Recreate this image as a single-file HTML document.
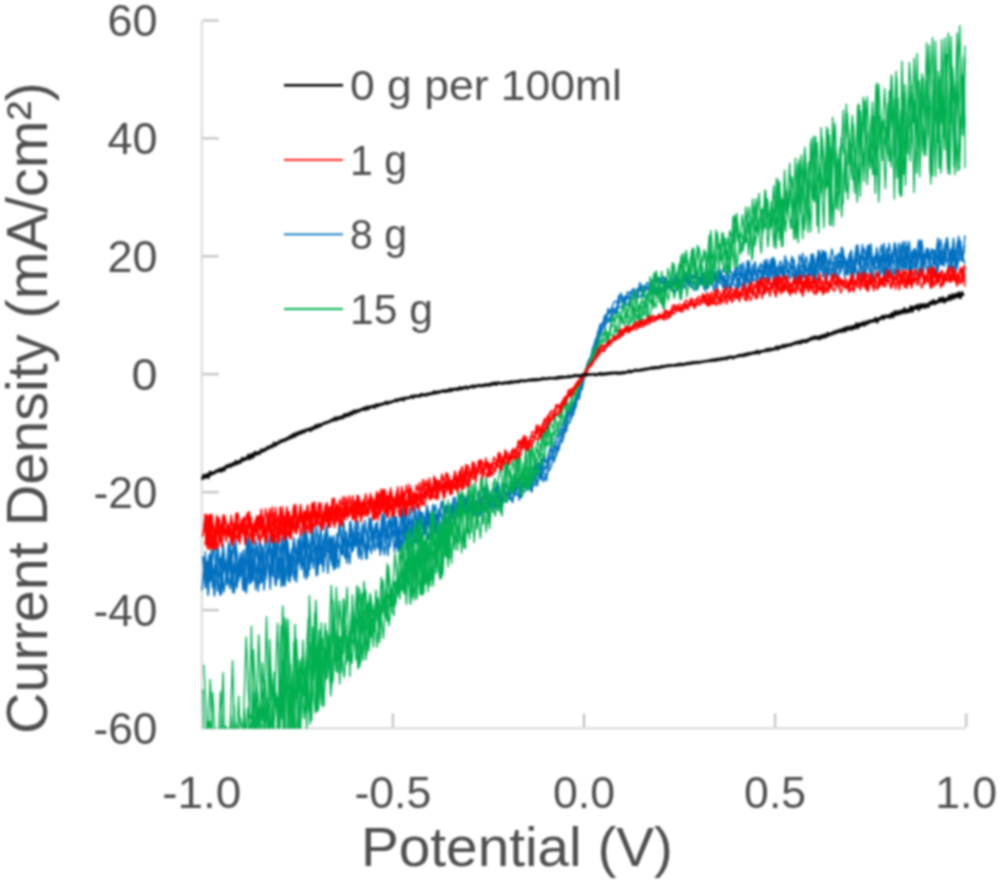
<!DOCTYPE html><html><head><meta charset="utf-8"><style>html,body{margin:0;padding:0;background:#fff;width:1000px;height:883px;overflow:hidden}svg{display:block;filter:blur(0.8px)}text{font-family:"Liberation Sans",sans-serif;fill:#4f4f4f}</style></head><body>
<svg width="1000" height="883" viewBox="0 0 1000 883">
<defs><clipPath id="pc"><rect x="201" y="19" width="766" height="709.5"/></clipPath></defs>
<g stroke="#D9D9D9" stroke-width="2" fill="none">
<path d="M201.8,20.5 V728.3 H966.2"/>
<path stroke="#BBBBBB" d="M202.8,20.5 h16"/>
<path stroke="#BBBBBB" d="M202.8,138.4 h16"/>
<path stroke="#BBBBBB" d="M202.8,256.3 h16"/>
<path stroke="#BBBBBB" d="M202.8,374.2 h16"/>
<path stroke="#BBBBBB" d="M202.8,492.2 h16"/>
<path stroke="#BBBBBB" d="M202.8,610.1 h16"/>
<path stroke="#BBBBBB" d="M392.9,727.0 v-13.5"/>
<path stroke="#BBBBBB" d="M584.0,727.0 v-13.5"/>
<path stroke="#BBBBBB" d="M775.1,727.0 v-13.5"/>
<path stroke="#BBBBBB" d="M966.2,727.0 v-13.5"/>
</g>
<g clip-path="url(#pc)" fill="none" stroke-linejoin="round">
<polyline stroke="#0070C0" stroke-width="1.5" points="203.8,556.5 206.6,585.7 209.9,557.7 212.5,579.9 216.3,558.5 220.0,595.3 223.1,543.4 226.2,580.2 228.6,556.3 232.8,592.8 235.9,540.1 238.3,581.6 242.0,563.3 244.5,591.3 247.8,537.5 251.3,582.6 254.3,549.7 258.2,591.3 261.5,545.0 264.1,590.0 267.3,552.4 270.2,589.3 273.4,536.1 277.3,568.2 280.4,550.4 282.9,585.8 286.7,533.5 289.8,582.1 293.5,540.5 296.5,582.1 299.6,541.2 302.7,565.4 306.4,542.1 309.7,569.5 312.1,533.0 315.2,558.4 319.0,541.6 321.4,564.0 324.9,533.2 327.8,573.3 331.3,537.7 334.2,569.1 337.6,541.1 341.4,554.1 344.8,532.1 347.8,556.6 350.8,521.7 354.0,545.3 356.9,529.3 359.9,550.4 363.4,533.9 367.0,559.0 369.4,517.1 372.5,547.9 376.6,527.8 379.2,542.1 382.9,521.8 386.2,538.5 389.6,521.7 392.2,536.3 395.3,527.6 399.1,541.8 402.2,508.8 405.3,538.2 408.7,520.0 411.7,538.2 415.2,506.4 417.7,531.8 421.4,512.6 424.8,534.1 427.3,505.9 430.8,536.9 433.7,510.2 437.0,536.2 439.8,508.6 442.9,524.1 447.0,508.1 449.8,520.5 453.2,505.0 456.6,510.9 459.4,503.7 462.5,513.8 465.5,500.5 469.4,510.9 472.7,499.3 475.8,509.8 479.1,490.4 482.1,506.1 485.3,495.9 487.9,506.3 491.8,495.7 494.5,501.0 497.8,494.1 500.9,507.4 504.4,493.0 507.7,497.2 510.8,487.8 513.7,493.6 516.7,485.4 520.7,490.0 523.2,482.9 526.6,487.9 529.4,479.2 532.8,483.0 535.8,464.3 539.3,477.9 542.9,468.6 546.5,480.8 549.2,460.6 552.0,458.6 555.7,445.9 558.8,450.4 562.3,431.5 565.1,428.3 568.8,407.4 571.4,418.8 574.4,403.9 577.9,397.1 581.6,385.8 584.6,374.4 587.5,362.7 590.7,361.4 594.1,348.7 597.0,341.9 600.3,328.9 604.0,325.2 607.2,317.3 610.3,321.9 612.6,309.1 616.4,313.3 619.3,302.2 623.2,301.0 625.7,297.5 629.6,297.6 632.0,293.8 635.4,294.0 639.2,289.7 642.0,291.0 645.6,286.9 648.3,289.1 651.2,285.4 654.9,295.0 657.9,284.8 661.1,294.6 663.8,284.0 667.1,286.5 671.2,280.9 674.4,293.3 677.6,280.2 680.1,285.7 682.9,278.7 686.7,283.6 690.2,278.1 693.3,284.2 695.7,277.1 699.2,283.4 702.9,275.9 705.3,289.4 709.5,276.6 712.9,283.7 715.2,275.8 718.1,282.4 722.5,275.7 725.4,291.4 728.2,273.2 731.5,280.9 735.2,271.2 737.7,289.1 740.5,270.1 744.4,286.7 747.3,260.7 750.9,278.9 754.4,267.9 756.9,278.2 760.0,270.1 762.9,279.7 767.1,259.3 769.4,284.4 773.6,257.5 776.5,286.0 780.0,266.3 783.1,276.4 785.5,264.6 788.7,272.6 792.8,266.4 795.2,282.5 799.0,263.4 801.5,283.3 804.8,262.3 808.5,275.4 811.2,254.3 815.0,281.8 818.3,251.1 820.9,268.1 824.0,251.4 826.9,280.7 830.6,257.3 833.4,280.5 837.2,257.0 840.5,272.9 843.6,256.2 846.8,273.6 850.0,256.0 853.6,279.4 856.3,245.5 859.9,263.2 862.5,244.6 865.5,278.2 868.7,245.6 872.6,265.4 875.2,254.9 879.0,269.5 882.4,252.9 885.1,267.3 887.9,250.7 891.6,262.5 894.5,242.7 898.4,268.5 900.8,252.1 904.0,268.2 907.5,247.9 910.7,276.0 913.5,249.0 916.9,267.3 920.5,240.6 923.4,268.1 926.2,251.1 929.8,258.6 933.0,250.5 936.2,263.3 938.9,250.3 942.4,263.7 946.4,239.2 949.5,260.4 952.8,247.7 955.8,265.6 958.6,236.2 962.4,261.3 964.8,245.1"/>
<polyline stroke="#0070C0" stroke-width="1.5" points="204.8,577.0 207.9,561.2 210.6,580.3 213.8,544.2 217.7,591.2 220.2,557.8 224.1,591.7 227.0,565.2 229.8,588.7 233.5,540.4 237.0,588.0 240.4,552.8 242.8,589.8 246.1,550.0 249.4,584.3 252.6,539.4 255.5,589.6 258.9,551.0 261.8,582.5 265.5,536.2 269.3,574.9 271.4,550.1 275.3,584.2 278.3,536.3 281.3,586.5 284.5,534.0 288.4,580.6 290.6,554.8 294.4,580.2 297.5,550.0 301.2,567.1 303.5,528.7 306.5,579.1 310.7,542.5 313.3,568.3 316.6,524.5 319.4,564.7 322.7,541.8 325.9,556.1 329.7,541.2 332.2,565.6 335.5,544.1 338.9,567.7 342.1,535.6 344.9,558.1 349.3,539.7 352.3,551.6 355.4,521.7 358.5,556.0 361.3,534.5 364.9,550.1 368.3,538.0 371.3,553.5 374.7,527.5 377.8,548.6 380.9,529.9 384.4,554.9 387.4,530.4 390.1,546.8 393.5,509.3 396.2,547.2 399.8,526.7 403.2,547.7 405.9,509.3 409.6,547.9 412.5,528.4 415.5,542.8 418.9,506.2 422.4,542.4 425.4,517.8 428.6,539.1 432.2,518.2 435.2,532.5 438.4,514.7 441.0,529.2 444.1,512.6 447.7,523.9 450.6,510.4 454.4,521.4 457.9,505.6 460.9,515.0 463.8,494.8 467.5,513.8 470.5,504.4 473.5,512.3 476.8,501.4 479.5,516.4 482.5,503.0 486.8,511.8 490.0,500.3 492.7,509.4 496.0,485.9 499.4,505.9 501.8,496.3 505.7,501.9 509.0,496.4 511.5,500.9 515.1,493.3 518.6,495.9 522.0,490.4 524.6,492.1 527.4,487.0 531.3,490.6 534.4,466.3 537.5,485.9 540.5,461.8 543.3,481.8 547.6,471.5 550.1,469.5 552.9,460.2 556.2,456.1 560.0,441.9 562.5,441.9 566.6,425.3 569.8,422.5 572.1,413.6 576.0,407.2 578.8,388.0 582.0,389.8 585.9,371.1 588.1,368.9 591.8,359.2 595.6,349.8 597.8,331.5 601.6,333.0 604.4,315.8 607.5,322.6 610.9,315.2 614.5,314.1 617.4,307.9 620.9,307.3 624.4,301.8 627.6,305.4 630.3,298.1 633.2,299.4 636.8,294.5 639.4,297.2 642.9,293.2 646.0,296.9 650.0,289.8 652.7,291.2 655.7,288.6 658.8,291.9 662.3,287.7 665.5,292.9 669.1,285.8 671.9,290.2 675.6,273.5 677.7,289.8 681.6,283.3 684.6,288.1 687.6,271.7 691.0,287.7 694.9,282.0 697.3,290.0 701.2,280.1 703.9,287.3 706.9,281.2 709.7,285.1 713.0,266.8 717.1,290.1 719.4,267.9 722.8,288.2 726.1,279.6 728.9,288.4 732.3,280.7 735.5,287.0 739.0,278.2 741.8,286.2 745.6,274.6 748.6,283.4 752.1,275.8 754.7,281.1 758.0,274.9 761.4,284.0 764.5,259.9 767.7,282.8 770.6,259.5 774.3,286.3 777.3,270.2 780.5,282.3 784.2,269.8 786.5,281.2 789.9,271.3 794.0,277.5 796.5,271.7 799.3,282.8 802.7,253.3 805.8,281.5 810.0,264.7 812.4,278.2 815.5,268.5 818.6,273.9 822.6,250.3 825.5,277.7 829.1,265.2 831.7,278.8 835.0,261.9 838.3,281.7 841.6,247.3 844.7,277.6 847.6,259.9 851.1,275.4 854.8,259.7 857.5,277.1 860.6,261.0 863.3,275.0 867.6,245.9 869.7,273.7 872.9,260.8 876.5,269.9 880.4,256.0 882.9,274.0 886.8,256.5 889.9,277.4 892.5,254.8 895.9,276.3 898.9,243.0 902.7,271.7 905.7,241.6 908.9,274.0 912.0,251.8 915.2,269.7 918.5,240.1 921.9,265.9 924.4,254.1 927.5,271.5 930.9,256.4 934.6,265.0 937.9,238.3 940.6,265.2 943.9,255.1 947.4,263.1 950.6,252.0 953.8,273.4 956.7,247.4 960.1,260.2 962.6,256.2 965.0,264.1"/>
<polyline stroke="#0070C0" stroke-width="1.5" points="205.0,551.4 208.2,583.0 211.4,549.8 214.4,595.3 217.0,547.8 221.2,584.4 223.3,548.1 226.7,583.1 230.0,544.2 232.8,575.3 236.3,548.9 240.3,576.3 242.7,552.5 246.4,592.9 249.8,547.6 252.1,578.7 256.0,540.4 259.3,575.3 262.7,547.2 264.9,575.6 268.8,543.6 271.9,572.6 275.2,535.5 278.3,573.6 281.9,542.2 285.1,586.0 287.7,541.4 290.9,570.2 293.9,537.8 297.9,564.7 300.3,534.3 304.4,577.8 306.4,531.5 310.8,556.6 313.2,526.6 316.3,576.0 319.3,534.5 323.3,571.9 326.1,528.6 329.5,556.8 332.5,539.5 336.2,568.2 339.1,526.0 342.6,549.4 345.2,535.9 348.9,547.4 351.3,527.8 355.5,545.3 357.7,520.5 361.5,543.6 364.3,527.7 367.6,537.9 371.0,518.7 373.6,536.0 377.2,521.7 380.3,555.3 384.1,520.5 387.4,538.1 390.3,517.3 393.6,536.7 396.5,516.4 399.4,551.3 403.4,522.6 406.1,549.3 409.3,518.5 413.2,532.5 416.4,518.1 418.8,543.7 422.6,512.8 425.7,526.7 428.4,510.3 431.9,526.3 435.5,504.9 438.1,522.1 441.3,502.9 444.6,515.1 448.3,504.4 450.5,513.0 453.8,497.2 457.5,508.5 461.2,499.6 464.0,505.0 467.0,495.7 470.6,506.2 473.0,491.3 476.6,515.0 480.0,491.9 482.6,513.4 485.9,490.7 489.2,499.5 492.8,488.3 496.3,493.9 498.4,483.1 502.4,506.4 505.5,484.2 509.1,491.2 511.7,482.4 515.4,486.8 518.2,479.2 520.9,497.8 524.8,478.1 528.0,480.5 531.5,472.5 533.8,475.6 536.9,467.6 541.2,470.0 543.6,460.7 546.8,462.2 549.7,449.5 553.2,449.8 556.3,436.2 559.6,435.2 563.1,421.0 565.8,419.5 568.9,409.7 572.6,406.5 576.4,395.1 579.3,399.2 582.1,381.5 585.1,372.0 589.0,361.0 592.3,352.2 595.1,340.9 598.2,334.1 601.1,324.4 605.1,319.6 607.5,313.0 610.9,309.7 614.4,301.2 617.9,301.9 620.3,296.3 624.3,306.7 627.4,291.8 629.8,293.2 633.3,288.6 637.1,300.6 640.0,282.4 642.7,297.4 646.8,282.4 649.4,285.1 652.5,279.5 655.3,283.5 658.5,277.5 662.2,283.8 665.4,278.3 669.0,281.5 671.3,277.5 675.1,280.6 677.9,277.0 681.8,291.8 684.6,274.5 688.2,279.2 690.9,274.6 694.3,278.1 697.1,274.2 700.2,278.5 703.4,272.0 706.9,279.1 709.9,268.2 713.3,278.7 716.9,271.0 719.2,277.6 723.6,268.4 726.8,275.5 729.1,267.8 733.0,277.7 735.3,267.9 739.1,288.7 741.7,268.2 745.2,289.2 749.1,267.4 751.9,275.8 754.9,261.7 757.7,272.7 761.0,263.2 765.0,274.2 767.3,263.0 771.1,271.7 774.8,260.0 776.9,272.5 780.4,260.9 783.8,271.5 786.7,260.6 790.8,268.7 793.9,259.2 797.1,284.3 799.5,254.9 803.4,270.0 806.3,256.6 809.3,270.5 812.8,254.4 815.8,282.3 819.3,250.8 821.6,269.4 825.7,252.5 828.2,265.9 832.0,249.1 835.4,267.9 838.7,252.9 841.0,263.1 844.8,257.5 847.5,267.4 851.2,250.1 853.6,267.1 857.5,250.9 860.9,264.0 864.2,248.6 866.5,259.3 869.7,252.4 872.9,279.9 876.8,247.5 880.0,276.8 883.4,249.0 886.5,276.8 889.1,243.3 892.7,262.7 895.3,244.0 898.6,263.0 901.7,244.3 905.9,259.5 908.0,246.7 911.6,276.8 915.1,248.6 918.1,263.6 921.5,240.2 924.8,262.0 928.1,248.4 931.1,274.3 933.9,250.1 937.0,272.9 940.5,239.5 944.0,259.8 947.2,237.7 950.4,262.4 953.5,238.3 956.3,272.0 960.3,240.7 962.9,258.5 965.0,235.4"/>
<polyline stroke="#0070C0" stroke-width="1.5" points="202.0,590.6 204.8,558.1 208.1,595.4 211.9,559.5 214.5,596.0 217.9,543.5 221.6,594.2 224.3,558.7 227.2,584.9 231.1,550.4 234.3,593.0 237.1,563.0 239.8,575.0 243.4,550.0 246.3,590.2 249.9,539.4 252.8,580.8 256.9,546.2 260.0,583.6 263.3,556.8 265.9,579.0 269.6,535.9 272.7,576.2 275.2,536.8 278.7,578.9 281.7,537.1 285.3,583.4 287.9,546.7 291.2,576.1 295.3,548.7 298.3,561.8 301.2,551.3 304.5,567.0 308.1,540.0 310.7,563.0 314.5,541.5 317.7,574.6 320.7,525.2 323.9,565.9 326.9,524.7 329.7,560.7 333.6,535.5 336.0,556.7 339.8,521.1 342.8,555.0 346.1,531.8 349.8,563.8 352.4,531.0 355.9,546.5 358.2,532.7 361.8,559.5 364.8,519.9 368.2,550.3 371.8,526.3 374.7,550.6 378.5,529.3 381.4,550.5 384.4,510.3 387.8,555.6 391.2,523.2 394.5,552.0 396.9,520.2 400.7,550.6 403.6,508.6 406.3,534.1 410.2,508.0 413.6,537.5 416.1,522.9 419.4,531.7 422.5,521.0 425.9,532.8 429.2,513.5 432.4,538.2 435.8,514.1 438.2,525.0 441.7,501.0 445.8,522.2 448.9,512.2 451.7,519.6 455.0,497.5 457.6,515.5 461.4,496.6 465.0,513.0 467.7,492.9 471.1,512.1 473.7,501.6 477.4,510.3 480.7,503.4 483.3,509.3 486.9,486.8 490.0,508.0 493.3,495.6 496.2,510.7 499.4,494.7 502.4,501.5 505.8,491.8 508.7,499.5 512.5,480.3 515.1,495.4 519.1,476.7 522.6,492.3 524.7,484.9 528.0,487.9 531.5,482.4 535.3,485.5 538.4,463.3 541.0,479.9 544.3,456.0 548.2,469.9 550.4,446.3 554.4,461.7 556.7,447.5 561.0,440.8 563.7,430.7 566.5,431.3 570.0,406.8 573.5,415.1 576.0,401.2 579.6,395.1 583.2,379.2 585.6,371.6 588.7,360.0 592.9,356.1 596.2,344.4 599.2,340.2 602.1,327.6 605.1,328.9 608.0,308.6 612.1,314.2 615.2,308.1 617.5,308.4 620.8,293.1 624.8,302.4 627.7,297.7 630.6,299.1 633.8,295.1 637.7,295.9 640.8,284.6 643.9,293.3 647.0,288.7 650.1,289.6 652.7,286.8 656.3,293.1 660.1,287.0 662.9,289.2 665.8,277.8 669.6,288.2 672.9,284.3 675.4,285.9 679.0,283.9 681.9,287.3 685.6,272.5 688.5,286.1 691.4,280.3 694.4,290.5 698.5,278.6 701.4,284.6 704.3,280.3 707.9,288.8 710.9,277.0 714.0,290.9 716.9,277.2 720.6,283.9 723.8,275.7 726.3,289.6 729.5,266.4 733.5,281.8 736.9,265.1 740.0,279.2 743.0,262.7 745.9,280.8 749.3,261.1 751.8,282.7 755.2,269.7 758.3,286.9 762.4,270.4 765.0,280.4 768.0,273.0 772.1,275.7 775.1,268.1 777.8,280.4 781.8,266.5 784.3,278.0 787.0,268.3 790.2,279.1 794.1,266.7 797.5,278.5 800.6,270.3 803.5,277.2 806.3,267.2 810.1,276.1 813.2,254.0 816.0,270.5 819.2,250.6 823.0,277.4 825.5,252.0 828.7,275.0 832.5,267.2 835.6,273.6 839.3,260.0 842.1,268.2 844.7,260.0 847.9,275.3 851.8,257.5 855.1,272.2 857.8,245.0 861.6,280.3 864.2,257.7 867.1,268.9 870.7,243.7 873.9,269.9 877.1,253.0 880.8,265.8 884.0,243.4 886.4,277.3 889.9,254.8 893.3,278.1 895.9,254.0 899.4,275.9 903.1,241.6 906.0,270.8 909.0,241.4 912.0,263.3 915.4,252.3 918.9,275.5 921.8,254.3 925.0,261.2 928.6,249.6 931.5,275.1 934.6,250.0 937.5,274.5 940.7,250.0 944.1,266.5 947.1,239.1 951.2,268.8 953.6,249.0 957.0,268.0 960.4,253.1 964.1,261.4"/>
<polyline stroke="#0070C0" stroke-width="1.5" points="202.8,556.1 205.4,588.0 209.3,554.2 212.7,587.6 214.9,564.9 218.6,576.8 222.2,553.9 225.6,572.9 228.8,541.7 232.0,584.6 235.0,564.9 237.6,576.4 241.2,557.7 244.4,576.8 246.9,538.7 250.5,582.7 253.5,553.5 257.1,579.5 259.7,536.3 263.1,572.4 266.6,549.3 270.0,577.7 273.4,535.9 276.0,586.0 280.0,553.5 282.1,565.4 285.3,541.1 289.4,568.7 292.0,548.5 294.8,572.9 298.1,539.1 301.3,569.6 304.8,528.0 308.2,576.3 311.4,533.7 315.1,557.3 317.9,539.1 321.4,559.9 324.6,534.8 328.0,551.2 330.3,536.1 333.7,569.8 337.1,533.5 340.7,554.0 343.8,521.7 346.8,563.3 349.9,521.5 353.3,550.5 356.2,532.0 359.0,558.3 362.4,524.0 365.9,558.6 368.8,522.0 372.5,540.8 375.8,523.4 379.1,544.8 382.0,513.8 384.7,542.2 388.2,520.1 391.9,533.5 394.9,516.1 397.8,551.1 401.1,511.0 403.9,539.2 407.5,522.4 411.2,531.4 414.4,512.3 416.9,532.3 420.1,511.5 423.5,529.8 427.0,505.3 429.3,528.3 433.1,504.4 436.8,534.1 439.0,509.4 443.1,521.0 446.0,504.9 449.6,527.2 452.8,503.4 455.4,524.1 459.2,494.9 462.3,507.8 465.3,503.6 467.6,509.7 471.8,499.2 474.9,515.3 478.3,498.0 480.7,504.9 484.2,487.4 487.6,501.4 491.2,496.1 493.3,512.1 496.9,483.5 500.4,498.0 503.2,488.3 506.6,494.8 509.3,487.2 512.7,502.5 516.1,477.7 519.2,500.2 522.7,479.4 525.3,483.4 529.0,476.2 531.8,492.4 535.4,472.3 539.0,475.5 541.2,458.9 545.3,470.0 548.4,457.6 551.1,457.8 555.0,444.4 557.9,441.4 560.9,429.7 563.7,428.3 567.9,409.6 570.5,413.2 573.7,403.8 577.5,396.4 580.5,383.8 583.6,377.0 586.3,368.9 590.0,361.7 592.7,347.6 596.1,342.1 600.0,324.6 602.7,325.0 606.3,314.2 609.1,313.7 612.1,307.5 615.9,313.5 618.8,295.4 622.3,299.9 624.9,296.2 628.7,295.8 631.1,291.7 634.4,292.9 638.2,288.0 641.1,290.2 643.7,285.6 647.6,287.4 651.1,283.2 654.3,286.1 657.2,276.8 659.8,284.5 663.6,276.5 666.2,284.1 670.3,280.8 672.4,282.2 676.4,278.3 679.6,283.3 682.8,277.0 685.6,281.4 689.2,277.6 692.0,279.5 695.7,269.8 698.0,280.6 702.0,274.1 705.4,291.2 707.7,273.5 711.5,280.5 714.8,273.5 718.4,281.6 721.1,272.5 723.9,280.0 727.2,273.9 731.0,290.7 734.1,271.6 737.3,275.5 740.2,264.1 743.4,276.1 746.9,269.7 750.4,288.7 752.8,265.1 756.7,277.3 759.7,265.6 762.7,276.7 765.7,262.9 769.2,274.9 772.6,257.6 774.9,276.1 778.8,265.4 781.7,274.5 785.3,255.8 788.3,274.8 792.0,256.2 794.8,283.9 798.0,264.5 801.3,283.1 804.8,262.0 807.7,273.9 811.2,262.5 814.4,283.6 816.8,257.2 820.0,270.8 823.2,257.1 827.0,272.3 830.2,259.1 832.6,265.1 836.3,255.4 839.4,269.4 842.6,248.0 846.3,270.5 849.4,253.8 852.1,280.9 855.4,251.5 858.5,265.0 861.7,255.1 864.8,263.9 868.4,245.2 871.7,264.6 874.7,256.5 877.5,261.6 881.6,245.0 883.9,277.4 886.9,248.1 890.1,267.0 894.3,250.0 897.4,267.8 900.7,249.2 903.9,261.0 907.2,246.6 910.1,265.0 913.4,252.2 916.1,259.7 919.1,250.5 923.2,274.6 926.4,248.5 928.5,262.9 931.7,248.8 935.5,260.9 938.4,242.7 942.2,264.4 945.1,243.7 948.8,273.8 951.2,248.8 954.8,264.5 957.4,242.1 961.2,255.4 964.6,250.5"/>
<polyline stroke="#00B050" stroke-width="1.4" points="202.9,689.2 205.3,778.6 209.5,721.1 212.6,735.1 214.7,728.3 218.9,776.1 221.0,725.8 224.3,734.6 227.7,727.9 231.2,776.5 234.2,705.4 236.3,777.1 240.0,717.2 243.2,730.9 246.2,637.3 249.6,719.6 252.0,712.4 255.8,742.7 258.0,705.6 261.3,768.4 264.4,696.2 267.7,767.2 271.2,674.9 274.1,707.3 277.6,623.1 280.1,725.3 283.7,667.8 286.8,757.8 289.4,687.1 292.5,749.6 296.4,639.5 299.1,685.3 302.6,657.8 305.4,710.6 308.6,647.6 311.2,678.5 314.4,631.5 317.4,711.3 321.2,622.7 323.3,707.1 327.4,648.5 329.8,662.2 332.9,600.1 336.1,662.6 339.1,639.5 342.3,661.2 344.9,622.3 348.0,660.6 351.9,624.5 354.9,634.8 357.2,585.7 360.7,631.4 363.7,609.8 366.6,655.3 370.2,601.3 373.2,647.3 375.9,590.1 379.6,628.1 383.0,580.4 385.3,613.4 388.5,566.3 392.1,607.5 395.0,581.5 398.1,591.9 401.2,565.6 404.8,585.9 407.5,547.2 410.6,604.0 413.5,529.0 416.7,598.9 420.3,538.7 422.6,594.9 426.5,525.4 428.6,570.7 432.3,513.5 434.8,564.8 438.6,531.4 441.7,578.0 445.1,519.8 448.2,567.0 450.8,510.2 454.1,544.9 457.5,509.1 460.3,526.8 463.0,492.4 466.1,516.7 469.2,497.5 473.1,519.3 475.5,483.7 479.3,510.9 482.2,477.4 485.1,512.4 487.4,485.0 491.6,504.1 494.7,478.1 496.7,487.5 500.6,466.0 503.4,494.5 506.7,462.6 509.8,479.6 512.9,459.3 515.7,480.8 518.5,457.1 522.5,496.5 525.7,447.2 527.9,490.8 531.1,448.6 534.4,458.7 537.5,441.0 541.2,450.8 543.5,429.4 546.8,439.0 550.2,420.9 553.1,429.3 556.0,414.2 559.7,417.4 562.0,407.1 565.1,408.4 568.5,395.6 572.1,395.1 574.5,387.5 577.4,386.2 581.5,376.6 583.7,377.8 587.3,365.1 590.1,360.5 593.6,349.6 596.7,355.2 599.1,335.3 602.5,335.6 605.6,328.8 608.5,341.6 611.4,319.5 614.5,320.4 618.3,310.9 620.8,316.8 624.2,304.3 628.1,313.6 631.1,297.3 634.2,326.0 636.4,294.3 639.7,327.1 642.7,286.4 646.1,304.0 649.3,289.0 652.2,299.9 655.7,271.9 658.7,293.4 661.8,271.2 664.3,308.4 668.1,268.4 671.1,286.9 673.8,263.5 677.0,281.0 680.8,260.6 683.1,279.8 686.2,250.4 689.7,276.0 692.8,248.1 695.1,267.0 698.9,247.7 702.2,263.2 705.6,252.0 708.4,286.6 710.8,230.8 714.0,264.9 717.3,232.7 720.7,259.5 723.1,233.0 726.6,275.1 729.6,230.8 733.5,243.5 736.6,217.4 739.4,246.4 742.2,215.0 744.9,238.5 749.0,207.1 752.0,260.1 755.1,205.3 757.2,231.9 761.1,210.1 763.4,230.5 767.5,198.9 770.2,227.6 773.8,185.4 776.2,248.4 779.6,182.2 782.8,246.3 785.3,188.1 788.9,208.2 792.2,176.7 794.9,213.0 797.9,164.3 801.2,208.1 804.8,147.1 807.9,232.3 810.6,142.7 813.9,200.3 817.2,142.4 819.3,187.4 822.2,138.0 826.2,188.2 829.2,135.3 831.6,180.5 835.2,123.5 838.3,210.2 841.2,137.0 844.2,154.9 847.2,113.4 850.8,167.6 853.4,124.9 857.2,202.0 860.4,111.0 863.3,167.0 865.9,124.8 869.2,162.1 872.4,102.1 875.3,193.4 878.7,84.5 881.9,141.8 884.6,88.4 887.6,148.8 891.4,75.0 894.4,198.9 896.7,77.6 900.5,196.2 903.0,93.5 906.6,152.9 909.4,62.4 913.1,122.6 915.3,98.5 919.4,147.3 921.8,73.6 924.7,123.4 928.2,96.8 930.8,184.0 934.7,76.9 937.4,142.0 940.4,75.9 943.2,137.5 946.4,54.7 949.9,174.5 952.6,67.4 956.1,120.6 959.7,25.7 962.2,117.6 965.0,45.6"/>
<polyline stroke="#00B050" stroke-width="1.4" points="204.5,754.8 207.6,722.0 210.6,778.8 214.0,733.3 216.3,778.6 220.5,691.8 223.4,739.6 225.9,727.0 229.6,744.7 232.6,660.8 235.6,776.5 238.6,695.9 241.9,773.7 244.4,708.7 248.0,774.8 251.4,626.3 254.6,769.8 257.2,687.6 259.9,717.4 263.5,687.1 266.7,770.3 269.8,639.5 273.0,737.6 276.2,693.7 279.5,730.0 282.5,659.9 284.6,755.6 287.9,619.0 291.8,715.4 293.9,641.9 297.7,704.1 300.8,676.4 303.9,718.5 307.1,659.4 310.0,724.0 312.8,627.3 316.4,711.1 319.5,630.2 321.8,688.1 325.1,623.5 328.0,659.7 331.3,585.4 334.6,660.0 338.0,627.1 341.0,672.7 344.0,599.9 346.6,641.2 349.8,632.0 353.4,644.3 356.9,586.7 359.7,667.1 362.5,616.3 365.9,659.9 368.8,601.4 372.5,636.9 374.7,605.6 378.5,621.9 381.4,577.2 384.4,616.5 387.3,563.8 390.0,600.1 393.3,580.5 396.4,595.4 399.7,548.7 403.0,591.0 406.0,532.3 408.9,571.2 412.2,537.8 415.1,582.4 418.7,520.6 421.8,595.2 424.6,541.1 427.9,591.6 431.1,513.1 433.3,584.6 436.5,533.0 440.1,579.5 443.6,500.5 446.3,557.2 449.0,523.9 452.9,537.8 455.1,505.6 458.8,542.6 461.3,502.7 465.5,548.8 468.0,486.0 470.9,532.3 474.6,493.1 477.1,518.6 481.0,477.8 484.0,506.1 486.3,475.5 489.6,528.4 493.2,482.6 496.0,504.2 498.9,487.4 502.0,516.1 504.9,463.6 508.8,493.2 511.1,473.7 514.6,488.5 517.5,461.2 521.1,495.8 523.7,462.9 527.0,489.4 530.0,459.0 532.8,471.6 536.7,446.3 539.2,457.2 542.4,431.1 545.4,448.3 548.8,423.3 552.2,446.9 555.0,415.3 558.0,435.0 561.5,410.4 564.5,422.8 566.9,402.1 570.0,411.8 573.4,391.8 576.2,389.7 579.1,382.9 583.0,376.5 585.5,368.7 588.8,368.6 592.1,355.9 594.9,358.3 598.8,342.7 601.4,340.5 604.9,331.9 608.0,343.2 610.6,325.7 613.9,326.1 617.0,314.7 620.5,320.2 623.1,301.6 625.8,318.1 629.8,302.4 632.8,312.8 634.9,289.1 638.5,309.3 641.9,299.7 645.1,307.9 647.5,292.2 651.2,304.3 653.8,273.1 657.0,297.9 659.7,283.5 663.2,308.6 666.7,278.8 670.0,284.0 672.5,262.6 675.4,288.0 679.0,264.0 681.3,299.2 685.5,254.3 688.1,275.5 691.7,250.3 694.8,277.1 697.6,245.3 700.7,275.4 704.1,249.6 706.9,269.7 710.2,241.8 713.5,283.3 715.9,230.1 718.9,267.5 722.0,232.7 725.0,254.5 728.2,237.6 731.4,258.5 734.6,215.1 738.2,241.1 740.9,231.8 744.0,245.7 747.5,219.8 750.2,239.0 753.2,217.0 756.1,231.8 759.0,193.4 762.2,238.7 765.6,190.7 768.7,230.0 771.4,201.7 774.8,231.0 778.4,179.9 781.5,246.6 784.6,170.2 786.9,213.2 790.6,185.7 794.0,239.2 797.1,176.4 799.7,213.5 803.3,170.1 805.7,212.7 808.8,162.0 812.2,198.4 815.7,136.8 818.7,232.8 821.2,127.6 824.6,197.9 828.1,129.0 830.7,225.6 833.4,135.7 836.5,187.2 840.2,146.4 843.1,203.4 846.3,104.2 849.1,164.7 852.3,115.4 855.5,177.5 859.1,103.9 861.2,155.6 864.8,100.5 868.2,164.5 871.5,116.2 874.0,173.4 876.8,82.9 880.6,150.8 884.0,119.5 886.7,155.1 889.3,90.9 893.3,137.8 896.2,71.2 899.4,193.1 902.0,61.1 905.5,185.4 908.5,85.0 911.2,142.9 914.2,58.2 917.3,145.6 920.5,92.6 924.0,155.8 926.6,43.0 930.2,173.4 933.2,78.7 936.5,129.3 939.6,79.8 941.9,123.9 945.0,38.0 948.1,173.3 951.4,70.5 954.8,174.7 957.4,81.1 960.4,135.5 964.4,54.7 965.0,167.9"/>
<polyline stroke="#00B050" stroke-width="1.4" points="203.9,664.8 207.6,742.0 210.2,679.4 213.8,764.9 216.3,736.6 220.1,751.0 223.1,672.6 225.5,775.5 229.2,736.6 231.9,755.6 234.6,726.6 238.2,752.8 240.7,729.3 244.1,771.8 247.9,707.9 251.0,740.4 253.5,649.9 256.8,733.1 260.0,708.1 262.8,770.1 266.5,616.6 269.5,733.5 272.0,707.2 275.4,765.6 278.8,692.7 281.4,718.2 285.2,617.8 288.4,744.2 290.4,664.5 293.8,748.9 296.8,661.0 300.3,742.0 302.9,640.1 306.7,729.7 309.4,595.7 312.6,674.5 316.1,646.6 318.5,709.9 322.4,638.2 325.1,670.5 328.2,635.1 330.7,695.7 334.5,653.7 337.3,672.6 340.1,636.8 343.3,653.9 347.2,587.4 349.9,676.5 352.3,594.7 355.5,649.6 359.5,588.0 362.1,631.7 364.9,620.7 368.9,638.2 372.0,605.8 374.6,631.4 377.4,604.0 380.4,613.3 384.4,597.8 387.4,617.0 389.8,601.0 393.8,615.8 396.7,581.4 399.0,595.5 402.5,544.4 405.9,587.5 408.5,532.7 412.0,593.1 414.5,549.3 417.5,585.2 421.5,515.9 423.8,593.3 426.9,532.8 430.1,586.4 433.9,510.0 436.2,573.5 440.1,525.1 442.6,566.0 446.4,519.1 449.1,558.7 451.6,520.3 454.6,549.9 458.3,492.0 461.6,552.9 464.2,501.7 467.6,532.9 470.4,485.0 474.2,542.5 476.7,503.3 480.4,538.4 483.3,497.7 486.2,532.0 489.1,491.1 492.5,510.8 495.2,490.9 498.6,510.9 501.9,483.0 504.7,501.9 508.0,461.3 511.5,494.0 514.0,473.5 517.0,490.4 519.9,453.2 522.9,482.9 526.8,462.1 530.1,487.9 532.5,442.9 535.4,480.6 538.6,450.1 542.2,465.7 544.6,428.8 547.9,445.9 551.7,433.3 554.7,434.1 558.1,422.5 560.8,421.3 564.3,401.0 567.0,412.3 570.0,402.5 573.3,403.5 576.6,390.3 578.8,390.1 582.1,378.5 585.4,374.2 588.1,366.5 592.0,360.1 594.4,346.7 598.2,349.2 600.8,341.0 603.5,341.9 607.3,332.2 610.1,334.2 613.3,314.7 616.3,333.8 619.9,314.6 622.6,323.4 625.4,311.8 628.6,327.2 631.7,307.8 634.7,315.3 638.0,306.9 640.8,323.5 644.6,300.5 647.5,321.6 650.1,276.7 653.4,308.5 656.4,271.0 660.0,302.7 663.0,283.2 666.0,292.0 669.0,280.8 672.4,291.5 674.9,280.1 678.6,291.3 681.1,255.2 684.6,282.6 687.3,271.5 690.7,281.6 693.8,248.5 697.1,290.5 699.7,259.5 703.7,288.5 706.1,262.6 708.8,286.8 712.0,253.0 715.3,266.3 718.7,243.2 722.4,264.1 725.3,237.7 728.5,273.6 731.7,234.0 734.3,267.3 736.7,213.2 740.6,254.1 743.8,234.9 746.1,242.9 749.9,220.6 752.6,258.0 756.0,198.8 758.8,234.9 761.9,208.6 765.7,228.4 768.1,210.4 771.5,226.0 774.5,205.1 777.8,231.2 780.6,196.3 784.1,221.8 786.5,192.0 790.6,228.7 793.6,192.6 796.2,238.6 798.9,159.5 802.7,238.7 805.3,152.7 808.8,215.1 811.4,138.4 814.8,201.9 818.2,173.7 821.6,193.2 823.9,169.7 827.6,185.8 829.9,146.6 833.4,226.1 836.4,150.5 839.4,193.3 843.3,110.4 845.9,191.6 848.5,141.1 852.4,179.5 855.4,148.7 858.0,182.9 860.8,124.0 863.9,181.8 867.2,96.6 870.3,168.1 873.6,116.1 877.2,175.4 879.5,116.0 882.7,160.2 885.9,127.6 889.3,161.4 891.7,76.6 895.0,156.2 898.0,98.3 901.7,195.7 904.8,84.5 907.4,153.5 911.2,85.5 914.1,192.6 917.2,53.5 919.7,176.9 923.2,77.5 926.0,155.5 929.1,45.1 932.6,175.8 935.4,41.3 939.2,168.4 941.7,39.6 944.5,149.5 948.3,32.9 951.1,123.4 953.7,86.6 957.6,171.0 960.9,57.9 963.1,135.4 965.0,58.2"/>
<polyline stroke="#00B050" stroke-width="1.4" points="203.5,747.8 206.6,739.8 209.4,772.9 212.6,692.1 215.7,747.0 219.0,730.8 221.7,747.2 225.4,726.0 227.8,778.8 231.0,714.9 234.5,775.7 236.9,723.2 241.1,776.6 244.0,722.0 246.3,747.8 249.6,722.2 252.4,736.0 256.0,711.6 259.2,748.1 262.4,662.6 265.7,722.8 269.0,703.6 271.8,765.3 274.3,672.3 277.7,724.6 281.1,625.5 283.5,748.3 287.3,621.1 290.6,752.1 293.1,671.8 296.1,746.3 299.6,660.2 302.3,699.8 305.8,679.2 309.2,711.5 311.4,667.0 315.4,713.1 318.2,642.9 321.5,705.1 324.3,647.2 327.0,679.1 330.4,635.1 333.2,680.6 336.3,587.3 339.7,684.0 343.3,598.7 346.0,664.2 349.5,639.7 352.1,663.3 354.8,617.4 358.0,669.0 362.0,593.0 364.6,638.0 367.3,604.1 370.8,637.1 374.4,610.9 376.8,647.3 380.4,605.9 383.3,638.4 386.9,590.4 389.0,626.0 392.7,595.0 395.7,604.7 399.3,574.7 401.3,590.0 405.1,560.8 407.9,584.9 410.9,551.1 414.2,600.3 417.2,551.4 420.0,594.5 423.1,537.1 427.2,584.5 429.7,538.1 433.0,586.1 435.6,549.4 439.6,577.5 442.2,525.0 445.5,555.8 448.1,499.9 451.6,563.4 454.6,511.7 457.4,550.4 461.0,489.9 464.1,547.9 466.9,515.7 469.6,539.0 473.1,483.7 476.7,529.0 479.7,497.6 482.8,524.5 485.8,500.8 488.4,522.4 491.3,501.4 495.2,516.1 497.9,498.2 500.8,513.1 504.6,492.1 507.0,502.9 510.5,478.4 512.9,493.6 516.3,454.6 519.4,484.4 522.9,470.4 525.8,488.7 529.0,444.7 531.9,484.6 535.5,457.4 538.6,475.1 540.9,453.3 544.9,456.6 547.4,424.8 550.8,447.4 554.0,431.5 557.0,437.1 559.5,424.4 563.0,424.7 566.7,410.8 569.3,408.9 572.8,388.8 575.7,397.5 578.7,387.1 581.5,382.3 585.0,373.3 588.1,368.3 590.8,363.0 593.9,359.0 597.0,349.7 600.7,347.5 603.8,339.1 607.0,343.4 609.2,333.3 612.7,336.2 615.5,326.3 618.5,332.6 622.0,317.0 624.5,325.3 627.7,313.9 630.9,323.1 634.4,307.1 637.0,319.3 641.0,303.6 644.1,315.9 646.5,302.3 649.3,320.8 653.0,299.1 656.0,307.5 659.0,288.3 661.9,305.0 665.0,284.1 668.4,300.5 671.1,279.8 674.2,298.4 677.7,283.0 680.3,299.9 683.3,253.1 686.9,296.6 690.1,268.9 693.2,289.6 696.1,264.1 699.1,286.0 702.2,265.0 705.4,285.7 709.3,235.4 711.4,285.0 714.6,257.9 717.8,281.3 720.6,244.5 723.9,271.8 727.6,250.6 730.4,269.2 733.1,216.4 736.7,267.8 740.0,240.6 743.0,251.1 745.8,206.9 748.6,255.0 752.7,199.0 755.1,245.9 757.9,224.9 761.3,253.1 764.9,190.2 767.8,246.9 771.2,214.0 774.1,247.2 776.5,178.2 779.6,239.8 782.6,199.5 785.8,231.6 789.7,163.4 792.4,227.8 795.4,158.1 798.2,242.8 801.3,154.9 804.5,229.6 807.9,179.4 810.7,231.9 813.8,136.1 817.2,226.0 820.7,162.9 823.9,227.7 826.6,126.9 829.6,224.5 832.7,117.3 836.1,208.5 839.0,159.3 841.7,216.8 845.5,149.3 847.7,199.4 851.6,144.8 854.5,193.0 857.8,105.2 860.3,196.4 863.3,97.1 867.2,184.7 870.1,134.6 872.7,174.9 876.1,85.2 878.7,201.9 882.1,121.2 885.4,188.6 888.0,103.4 891.1,167.0 894.6,99.1 897.3,177.9 901.0,110.5 903.7,174.2 907.4,111.3 910.0,161.0 913.2,93.4 916.9,173.4 919.1,80.8 923.2,152.3 926.2,80.6 928.6,135.5 932.5,37.7 935.6,176.4 938.4,71.2 940.9,173.3 944.1,99.8 947.6,168.5 951.1,36.6 953.9,166.4 957.0,33.0 959.5,169.8 962.7,76.0 965.0,126.8"/>
<polyline stroke="#00B050" stroke-width="1.5" points="252.5,696.9 255.4,748.4 258.7,635.1 261.9,720.7 265.0,679.9 267.4,718.4 270.2,666.4 273.8,702.6 277.3,697.6 279.7,741.9 282.7,606.0 285.8,695.3 289.8,684.0 292.4,720.9 295.1,624.4 298.5,745.1 301.7,658.3 304.3,691.5 308.4,618.7 311.6,720.4 314.7,613.2 316.7,669.1 319.9,652.5 323.9,705.2 326.5,631.3 330.2,682.6 333.1,619.5 336.2,671.3 339.5,600.9 342.6,644.0 345.2,622.4 348.3,657.3 351.6,611.9 354.0,642.0 358.1,611.0 360.5,663.0 364.1,581.5 366.5,621.4 370.2,593.6 373.6,615.3 376.2,600.2 379.6,642.7 382.4,599.0 385.5,616.7 388.8,594.1 391.6,607.0 395.0,553.2 398.3,590.7 401.2,561.9 403.8,593.9 407.2,559.0 410.5,603.5 412.8,551.7 416.8,598.6 420.0,526.4 422.6,557.7 426.2,542.9 429.1,569.2 431.5,511.8 435.4,555.4 438.0,520.6 441.5,550.0 444.8,517.3 447.6,551.7 450.4,503.4"/>
<polyline stroke="#00B050" stroke-width="1.5" points="250.7,772.3 253.6,692.0 257.4,745.6 260.4,718.7 263.2,770.4 266.9,698.6 269.2,738.1 272.9,714.3 276.4,761.8 279.5,671.2 282.0,711.0 285.3,635.9 288.0,705.5 290.9,696.6 295.0,702.6 297.2,677.2 300.2,726.1 304.0,671.5 306.4,712.1 309.7,642.4 313.1,679.4 315.8,600.6 319.4,684.7 322.3,664.6 325.8,678.6 328.5,647.3 332.2,683.5 335.1,625.5 338.0,662.2 341.4,650.5 344.2,677.5 347.0,638.7 349.9,655.3 353.8,614.0 356.0,659.9 360.1,622.0 362.9,660.3 365.8,590.5 368.6,650.8 372.1,618.7 375.1,623.3 377.6,598.1 380.8,616.7 384.5,602.9 387.3,621.2 391.0,592.1 393.5,607.1 396.8,578.8 399.8,598.9 402.6,543.9 406.5,604.4 409.3,526.7 412.0,597.3 415.4,519.1 418.7,574.0 421.9,535.2 425.2,583.7 427.5,543.4 430.9,580.2 433.5,551.5 436.7,566.7 440.7,523.3 442.8,574.4 446.0,519.0 449.8,557.9"/>
<polyline stroke="#FF0000" stroke-width="1.5" points="205.2,518.5 208.4,538.8 211.0,514.0 214.4,541.4 217.8,518.1 220.8,542.0 224.1,528.3 226.5,534.5 230.0,524.1 232.9,545.3 237.1,521.4 239.7,544.0 243.3,520.0 245.9,538.8 249.3,511.4 252.0,537.1 255.7,522.7 259.6,528.3 261.9,516.4 265.2,537.2 269.1,517.7 271.3,542.4 274.5,520.4 278.4,542.5 281.9,511.8 284.0,533.9 288.1,512.1 291.4,538.2 293.7,504.8 297.6,526.3 300.6,504.6 303.8,529.2 307.6,505.0 309.6,533.4 313.1,503.4 316.9,525.0 319.6,512.3 322.8,524.2 326.5,504.9 329.9,527.3 332.3,498.4 335.8,518.6 338.7,505.8 342.1,525.1 345.6,496.7 349.0,513.9 351.3,501.3 355.3,512.4 358.3,495.5 361.0,522.0 364.2,504.0 367.5,510.2 370.6,502.2 374.7,519.4 377.7,496.2 380.3,508.3 383.9,492.9 387.1,505.8 389.7,491.5 393.8,507.6 396.5,492.3 399.4,505.5 402.7,494.0 406.2,504.0 409.7,491.8 413.2,504.2 416.3,493.5 419.0,500.2 421.8,487.4 425.9,498.7 428.5,481.6 431.5,496.9 435.5,478.3 437.8,499.7 441.1,480.8 444.8,497.1 447.9,474.1 451.6,488.8 454.2,475.5 457.0,483.9 461.0,471.9 463.5,480.6 466.6,467.9 470.2,478.6 473.2,466.3 477.2,473.5 479.4,466.3 483.5,471.2 486.4,461.8 489.0,467.4 492.1,463.1 496.4,463.7 498.7,452.7 501.7,470.6 505.2,454.3 508.8,458.4 511.9,450.4 515.3,452.2 518.8,446.9 521.2,446.4 524.3,435.6 528.3,450.4 530.7,436.1 534.5,436.5 537.0,429.7 540.3,429.6 543.3,422.6 547.3,428.1 549.9,412.2 553.0,415.6 556.3,404.5 559.6,406.4 562.5,400.8 565.9,398.4 569.6,389.6 572.9,389.8 575.5,384.8 579.2,381.2 582.7,374.5 585.5,372.2 588.5,365.6 591.3,366.5 595.4,356.4 598.6,352.9 600.9,345.8 604.2,351.6 608.2,340.9 611.1,340.9 614.1,337.2 617.0,336.1 620.2,332.4 623.9,332.1 627.3,328.5 630.8,328.9 633.7,323.8 636.5,326.0 640.1,320.6 642.5,323.6 646.4,319.5 649.7,320.2 652.1,317.3 655.7,318.5 658.6,315.5 662.0,316.1 665.1,309.9 668.4,312.6 671.4,309.7 675.3,309.2 677.7,306.4 681.5,307.8 684.3,303.2 687.8,310.0 690.8,298.3 694.1,308.1 697.4,298.6 700.2,301.3 703.4,296.7 707.5,300.0 710.1,294.5 713.0,299.3 717.0,291.7 720.3,304.8 723.4,290.1 726.5,295.6 729.0,290.5 733.1,296.1 735.9,287.4 739.5,301.7 742.3,288.2 744.8,292.4 749.2,285.2 751.4,293.0 755.3,283.7 758.0,291.4 761.1,278.4 764.2,291.8 768.0,277.9 770.8,286.5 774.4,277.6 778.0,288.2 780.3,279.4 783.4,289.9 786.9,275.8 790.5,295.4 794.0,276.6 796.2,287.6 799.8,276.1 802.8,296.3 805.9,279.3 809.2,287.6 813.0,280.1 815.3,287.6 819.5,273.8 822.6,293.5 825.7,273.5 828.4,292.5 831.4,276.8 835.5,285.0 837.7,279.6 841.4,284.8 844.5,280.7 847.4,283.9 851.6,277.0 853.9,292.0 857.7,274.1 861.1,285.6 864.0,275.9 866.6,289.9 870.6,279.5 873.1,281.8 877.2,271.1 879.3,284.9 883.2,276.3 886.4,281.9 889.4,270.1 892.2,282.9 895.5,276.6 899.3,283.2 902.8,269.9 905.9,282.9 908.9,272.6 911.5,287.9 915.4,277.1 918.0,280.2 921.2,273.9 925.0,282.8 928.1,268.2 930.8,283.0 933.8,267.6 937.0,282.2 940.6,272.0 944.2,282.4 946.8,271.0 950.4,279.2 953.1,269.4 956.4,280.9 960.1,269.5 963.0,278.3 965.0,265.3"/>
<polyline stroke="#FF0000" stroke-width="1.5" points="205.1,545.4 208.2,515.1 211.0,548.5 214.3,532.5 218.2,547.6 220.6,524.5 224.2,535.4 227.5,524.0 230.9,541.6 233.7,523.6 236.4,540.0 239.6,524.6 243.7,534.5 246.9,513.0 249.2,539.5 252.9,524.5 255.6,532.9 259.2,515.4 262.5,537.6 265.5,508.7 268.9,531.0 272.5,507.0 274.8,542.5 278.9,515.4 281.8,535.1 284.6,516.7 288.1,535.8 291.5,516.4 294.6,531.8 297.8,518.7 301.0,535.7 303.9,510.8 307.4,531.0 310.7,511.2 313.9,528.4 316.5,512.1 319.7,526.0 322.8,513.2 326.4,522.3 329.9,506.3 333.4,524.3 336.4,503.9 339.2,526.2 342.9,496.5 345.1,519.7 349.2,495.8 352.4,519.6 355.0,501.0 358.6,514.8 362.3,501.8 364.3,516.0 367.6,499.6 371.6,509.2 375.1,499.4 378.2,520.0 380.7,489.3 384.3,513.5 387.3,495.5 390.9,509.2 393.7,498.0 397.1,506.2 400.5,496.1 403.7,507.4 406.5,485.1 409.2,505.5 413.0,492.7 416.6,506.7 419.5,482.5 422.0,505.2 426.0,480.3 429.4,499.3 431.7,489.1 435.4,499.2 438.4,480.5 442.1,492.5 444.4,480.5 448.2,489.7 451.1,480.1 455.1,489.4 457.1,477.2 460.6,487.5 464.1,471.7 466.9,486.7 470.4,473.3 473.3,479.2 477.2,468.9 480.6,473.8 482.8,468.3 487.0,476.6 490.0,463.4 492.7,475.3 496.4,461.7 499.9,468.3 503.0,457.8 505.6,463.6 509.0,456.6 512.0,459.2 514.9,450.2 518.4,458.4 521.6,439.5 524.7,448.7 528.2,441.3 531.6,447.2 534.2,435.3 537.6,440.4 541.3,430.2 544.5,432.3 547.6,415.4 550.3,421.4 554.2,415.3 556.7,414.1 560.0,407.6 563.9,403.4 567.0,397.8 569.8,395.8 573.3,389.8 575.6,388.7 579.9,380.5 582.2,379.9 585.2,372.8 589.2,367.4 592.4,362.7 594.9,359.9 598.5,348.8 601.5,351.6 605.4,347.1 608.3,345.7 611.2,341.5 614.6,340.5 618.0,336.2 620.3,337.5 624.6,327.6 627.8,332.5 631.1,328.6 633.2,329.2 636.7,321.0 639.6,326.8 643.7,319.0 646.1,324.4 649.4,315.9 653.5,321.2 656.3,317.8 658.8,319.0 663.0,314.7 665.4,318.8 668.6,312.7 672.0,314.1 674.8,304.6 679.1,310.8 681.8,307.8 685.1,308.5 687.8,304.7 690.7,305.9 694.1,302.9 697.5,304.9 700.7,300.4 703.9,303.3 707.4,292.5 710.0,305.7 714.0,295.8 716.7,305.5 720.1,296.7 723.7,302.9 726.2,285.9 729.4,299.3 733.1,292.7 735.9,298.6 738.8,293.2 742.7,296.1 745.6,291.2 748.5,294.1 751.7,281.1 755.7,299.2 758.6,279.9 761.9,298.6 764.8,277.5 768.7,292.4 771.9,283.9 775.0,294.7 777.3,276.0 780.5,293.9 784.2,275.5 787.7,291.9 790.5,283.4 793.4,292.8 797.1,281.9 800.3,292.8 803.1,281.6 806.1,288.7 809.5,275.8 812.5,292.0 815.9,280.8 819.3,290.4 822.2,281.3 825.4,293.1 829.0,281.7 831.9,288.7 835.6,273.8 839.0,288.9 841.9,279.2 845.2,288.6 848.3,282.5 851.3,291.0 854.5,281.8 857.6,287.1 860.7,278.9 863.7,287.2 867.4,273.5 870.3,284.3 873.4,279.2 877.1,289.8 880.1,278.5 883.5,286.7 886.4,270.3 890.3,286.7 893.4,276.3 895.6,289.3 898.9,270.7 902.5,284.3 905.9,270.5 908.6,284.6 911.7,269.9 915.0,280.9 918.2,278.3 921.8,288.0 924.6,275.4 927.6,282.2 931.8,267.9 934.2,286.6 938.0,273.7 940.6,287.7 944.5,273.8 947.3,281.2 950.0,267.0 954.0,280.6 956.9,274.1 959.7,283.9 963.9,266.0 965.0,286.8"/>
<polyline stroke="#FF0000" stroke-width="1.5" points="203.9,523.4 207.5,548.8 209.7,515.1 213.8,549.8 216.7,524.8 220.3,541.3 222.8,515.2 226.0,541.7 229.7,524.5 232.4,541.2 235.9,523.2 238.8,540.9 242.0,520.9 245.1,544.5 248.9,522.2 251.7,534.1 255.2,520.3 257.9,539.3 261.3,508.9 265.0,541.1 267.3,516.0 270.5,530.6 274.3,514.5 278.0,542.9 280.5,520.2 283.3,528.8 287.0,506.7 290.3,538.7 293.0,517.6 296.1,534.0 300.3,505.7 303.1,528.4 306.4,513.7 308.9,522.0 312.8,510.9 316.0,524.8 319.5,510.4 321.9,525.6 325.0,507.7 328.3,526.9 331.6,507.5 334.5,527.6 338.1,508.1 342.0,526.1 344.9,504.3 347.3,514.3 351.2,506.3 354.3,519.9 357.1,495.6 360.5,517.2 364.0,503.4 366.6,516.5 370.4,500.7 372.8,514.1 376.8,491.4 379.9,513.9 383.0,489.5 386.1,513.4 389.8,497.5 392.0,516.6 396.1,494.8 398.7,507.0 401.8,486.5 405.2,514.6 409.1,497.4 412.0,504.5 414.6,493.5 418.2,508.7 421.3,496.6 424.5,505.7 427.2,490.3 430.9,499.7 434.6,485.7 437.0,498.4 440.6,481.0 443.6,498.5 446.8,480.5 449.7,493.3 453.0,481.1 456.4,489.9 459.7,474.0 462.5,489.8 465.9,464.5 469.4,481.4 472.6,471.5 476.1,479.4 478.8,460.2 482.6,479.0 485.8,457.9 488.8,476.9 492.0,466.1 495.6,471.7 498.6,453.1 501.0,469.7 505.2,449.8 508.2,461.7 510.9,456.2 514.3,458.2 517.6,451.9 520.5,455.5 523.4,436.4 526.5,451.1 530.3,441.1 533.7,441.9 536.5,425.1 539.3,439.1 542.7,429.4 545.9,429.6 549.7,421.1 552.6,420.0 556.0,413.9 558.7,414.7 562.3,405.8 565.8,404.6 568.4,390.2 571.5,396.6 575.5,388.0 578.7,385.1 581.1,379.2 584.7,373.9 587.7,367.1 591.3,365.4 594.5,360.3 598.0,356.6 600.7,351.8 603.9,350.5 606.8,346.5 610.7,344.4 613.9,335.9 616.2,340.2 620.3,328.9 623.0,335.7 626.5,325.8 629.2,332.6 632.5,328.9 636.2,329.7 638.7,326.8 642.1,327.0 645.3,323.2 648.3,324.4 652.0,320.9 654.4,321.3 658.6,317.8 660.9,318.6 664.9,315.0 667.5,318.7 671.3,312.1 673.7,314.3 677.4,309.3 680.5,311.6 684.2,307.4 686.9,308.1 690.4,304.2 693.8,305.3 696.6,302.7 700.4,305.3 702.7,293.7 706.7,305.3 709.7,299.1 712.4,304.2 715.3,290.1 719.6,302.9 722.6,296.1 725.6,299.3 728.1,294.2 732.1,302.4 735.2,293.0 738.0,298.4 741.5,291.3 744.9,300.3 748.1,292.8 750.5,300.8 753.9,292.0 757.4,298.1 760.5,278.6 764.1,294.6 767.1,286.2 769.9,296.4 774.0,276.9 776.1,297.0 779.9,276.5 782.8,292.8 785.7,285.2 789.9,294.3 792.3,284.3 795.8,293.8 798.6,275.9 802.6,292.8 805.6,276.2 808.2,292.4 811.7,283.6 814.5,294.4 818.2,284.7 820.9,290.4 824.4,286.5 827.3,290.6 831.1,283.4 834.0,291.6 837.9,282.8 840.9,293.1 843.7,282.8 847.1,288.7 850.8,281.0 852.9,286.1 857.0,280.4 860.4,290.1 862.9,272.3 866.0,288.9 869.4,278.7 873.0,288.0 876.1,280.6 879.2,287.6 881.7,278.6 885.5,286.8 888.1,278.2 891.3,288.5 895.2,277.5 898.6,284.6 901.1,277.4 904.4,287.6 907.7,280.7 911.0,284.4 914.0,276.6 917.4,285.6 920.9,268.1 924.2,284.5 927.3,275.7 930.6,287.7 933.4,267.4 936.6,284.2 939.6,273.4 943.1,285.7 946.6,277.3 949.6,282.0 952.8,266.4 955.5,282.1 959.1,277.5 962.4,283.1 965.0,266.7"/>
<polyline stroke="#FF0000" stroke-width="1.5" points="202.5,537.0 206.1,514.2 209.4,549.5 212.0,521.6 215.7,549.5 218.8,517.5 221.4,530.7 225.1,519.3 228.5,531.0 231.4,519.4 234.9,532.2 237.9,512.8 241.1,532.0 244.2,516.7 247.5,534.6 251.1,517.4 253.7,544.0 256.8,515.7 260.1,529.3 263.6,518.0 266.9,543.0 269.6,508.6 272.7,542.2 275.7,507.5 279.4,541.5 282.4,506.8 285.3,539.7 289.1,511.8 292.2,526.3 295.8,504.6 297.9,527.6 301.9,515.6 305.4,519.3 307.6,505.4 311.5,533.0 314.5,501.8 317.9,523.7 320.9,502.9 323.7,529.5 326.8,502.5 330.3,517.3 334.3,497.9 336.8,517.4 339.7,499.4 342.8,514.0 346.6,501.1 350.1,510.0 352.7,495.8 356.5,522.4 359.0,498.5 363.1,514.3 365.6,493.7 368.4,504.5 372.2,497.3 375.7,518.6 378.9,493.5 382.2,506.8 385.1,489.7 388.4,516.9 391.4,492.0 394.3,508.0 397.8,486.7 400.8,516.4 404.1,491.4 406.7,514.8 410.8,487.7 413.7,500.9 416.5,484.9 420.5,500.2 422.8,479.5 426.0,499.0 429.2,486.2 433.4,493.2 436.5,479.9 439.2,488.9 442.4,475.6 446.0,488.5 448.6,477.2 452.0,494.0 454.8,471.1 458.2,481.6 462.0,466.4 464.6,478.8 467.9,465.5 471.5,475.7 474.8,468.3 477.3,473.8 481.3,460.3 484.3,466.5 487.8,461.7 490.6,476.1 493.7,457.0 497.3,463.3 500.5,456.3 503.5,459.6 506.9,452.4 509.6,456.0 513.3,448.5 515.7,450.6 519.8,441.1 522.2,445.1 525.9,436.6 529.1,448.1 532.1,431.6 535.4,433.1 538.6,425.4 541.3,436.5 544.6,419.7 547.8,418.5 551.4,410.6 554.9,411.2 557.9,405.2 561.4,411.3 563.9,397.8 567.6,395.5 570.1,390.2 574.2,387.1 577.1,381.9 579.9,379.4 583.2,375.0 586.4,370.5 589.3,365.4 593.4,359.8 596.0,355.0 599.9,349.6 602.1,346.4 606.2,344.3 609.3,340.8 611.6,339.9 615.0,335.9 619.1,338.2 621.9,330.1 624.8,330.4 628.2,327.1 631.7,327.2 634.1,324.4 638.1,324.4 641.2,321.0 643.9,326.5 647.8,318.3 650.8,318.7 653.6,316.6 656.4,317.1 659.6,313.9 663.7,320.2 666.4,310.6 669.5,317.2 672.6,305.3 676.3,307.7 679.3,304.1 682.7,306.1 685.9,300.1 689.0,303.5 691.9,299.0 694.8,300.8 698.9,296.4 702.3,298.7 705.0,294.9 707.8,306.1 711.6,292.0 713.9,296.5 717.8,288.7 720.8,296.2 723.7,289.7 726.9,304.1 730.6,287.4 734.1,291.2 736.7,288.3 739.8,293.7 743.9,283.7 747.0,300.8 749.5,284.3 753.1,291.8 756.6,281.4 759.7,286.4 762.9,281.8 766.2,289.0 768.9,280.2 771.7,286.1 775.4,279.1 778.2,287.8 781.6,277.7 784.4,288.3 788.0,279.7 791.0,286.8 794.6,277.2 797.3,285.7 800.4,278.9 803.9,285.2 807.7,278.3 811.1,286.7 813.1,278.8 817.0,293.8 820.0,275.8 822.8,294.1 826.4,279.4 829.5,286.2 832.9,277.4 835.7,282.4 839.0,277.0 842.8,285.5 845.6,278.4 849.0,292.3 852.1,276.8 855.7,283.9 859.0,272.5 861.4,283.3 864.4,273.2 868.2,291.5 870.8,277.3 874.1,279.7 878.0,272.8 880.9,282.8 884.3,275.5 886.9,281.6 890.6,272.8 894.1,281.9 897.4,270.0 900.5,281.1 903.7,270.8 906.8,288.5 909.6,271.8 912.6,282.4 916.1,270.3 919.3,280.6 922.1,270.3 925.6,277.9 929.5,270.8 932.3,280.7 935.6,272.4 938.4,278.9 941.9,270.2 945.1,278.6 948.1,268.3 950.8,280.3 954.6,270.4 958.1,278.6 960.9,268.1 964.4,278.2"/>
<polyline stroke="#FF0000" stroke-width="1.5" points="204.7,514.1 208.1,545.2 211.8,515.0 215.3,539.9 218.3,522.6 221.8,547.1 224.6,514.9 228.2,536.2 231.3,515.3 233.4,541.4 237.2,522.8 239.9,534.1 243.2,518.8 246.2,536.4 249.8,523.5 253.5,534.5 256.7,516.0 260.1,543.5 263.1,521.4 266.0,531.7 268.6,512.5 272.9,535.9 276.1,518.5 278.9,529.9 282.6,516.0 285.7,529.0 287.8,514.4 291.8,531.9 295.2,510.2 298.6,527.2 301.1,512.3 304.6,533.4 307.7,509.4 311.3,526.7 313.9,503.3 316.7,524.9 320.1,512.5 323.0,525.9 326.9,509.7 330.0,527.2 332.7,508.5 336.8,521.4 339.9,506.7 342.3,520.0 346.1,505.8 349.2,515.6 352.3,506.2 356.1,514.7 358.4,496.1 361.9,512.8 365.5,501.9 368.8,514.6 371.6,497.0 374.8,509.8 377.5,497.3 381.4,511.7 384.5,499.6 387.2,517.3 390.7,487.9 394.2,516.7 397.3,491.6 400.2,507.8 404.1,495.2 407.3,515.0 409.4,484.3 412.6,512.3 416.3,493.9 419.0,509.9 423.1,480.2 425.7,497.1 429.4,478.0 432.7,497.8 435.5,481.1 439.3,490.3 441.9,474.1 445.8,492.1 448.1,478.7 451.5,494.5 454.8,475.1 457.7,492.9 461.1,471.4 463.8,488.7 467.7,470.9 470.8,477.0 474.2,462.6 476.8,472.1 480.7,459.6 483.5,474.4 486.6,464.8 489.7,468.0 493.4,462.1 496.9,467.4 499.9,453.0 503.1,464.0 505.9,455.7 509.4,464.5 512.9,451.7 515.5,460.9 518.4,440.4 522.1,449.2 525.0,442.9 527.9,442.7 532.2,435.7 534.5,436.6 538.4,430.9 541.1,431.0 544.7,418.4 547.4,424.1 550.3,417.7 554.4,414.5 557.5,404.8 560.0,408.0 563.7,401.1 567.3,398.0 570.5,392.2 572.8,390.8 576.2,385.2 579.6,384.7 582.5,374.2 586.4,373.8 589.4,366.3 592.8,362.2 595.5,357.3 598.9,352.9 601.7,345.2 605.5,347.1 608.8,343.0 611.4,341.8 615.2,337.2 618.1,336.1 621.0,333.1 624.3,332.9 627.6,329.3 630.4,329.6 633.4,326.7 636.6,327.0 640.1,323.4 643.8,324.2 647.0,321.2 650.6,321.4 652.8,315.3 656.1,319.5 660.2,315.3 663.2,315.9 666.3,312.3 669.8,317.7 672.5,309.5 676.0,310.8 678.8,307.7 682.6,312.1 685.1,303.6 688.6,306.0 691.7,301.1 694.9,308.4 697.4,299.6 701.8,302.3 704.8,297.0 707.3,300.9 711.2,298.0 714.5,304.3 716.7,295.5 720.3,299.0 723.7,292.6 727.3,296.3 730.4,290.7 732.6,301.9 735.9,291.2 739.1,297.0 743.1,287.6 745.6,296.1 748.8,287.6 752.0,294.8 755.5,285.1 759.1,293.6 762.0,278.9 765.0,293.2 768.5,287.0 771.6,289.5 774.3,281.6 778.2,290.6 781.5,286.3 784.6,290.6 787.6,285.2 791.0,290.8 794.3,281.4 797.5,289.4 800.9,274.8 803.2,294.8 806.9,274.7 809.5,290.4 813.7,275.3 815.9,286.8 819.9,274.5 822.8,294.6 825.5,279.9 829.6,288.6 832.4,273.8 835.5,285.1 839.1,279.4 841.8,285.2 845.1,280.5 847.9,286.4 851.9,273.4 854.7,283.9 857.9,277.7 861.2,285.7 864.5,278.5 867.3,281.8 870.9,273.1 873.7,290.8 876.8,271.8 880.8,285.1 883.9,278.3 886.5,282.7 889.5,275.6 893.3,283.1 896.4,274.2 899.4,289.9 902.2,276.0 905.9,284.9 909.4,270.0 911.9,284.1 915.0,269.6 918.6,279.8 922.4,272.4 924.9,283.7 928.9,267.9 931.8,288.1 934.2,267.3 938.5,282.2 941.1,274.3 944.6,281.4 947.0,271.6 951.2,282.3 953.9,273.6 957.0,286.2 960.7,267.3 963.0,280.4 965.0,274.4"/>
<polyline stroke="#FF0000" stroke-width="1.5" points="204.2,520.1 207.2,543.4 209.8,520.3 212.9,549.1 216.7,515.2 219.3,541.6 222.7,522.7 226.2,531.8 229.1,527.9 231.9,544.9 236.1,513.2 239.3,537.3 241.8,519.0 245.4,537.6 249.0,512.2 252.1,542.6 254.3,526.2 257.8,531.2 261.0,517.0 264.8,536.3 267.8,520.4 270.4,536.3 273.5,514.3 277.8,537.8 280.0,507.0 283.6,540.4 286.7,512.6 290.5,539.1 293.2,509.6 296.8,532.2 299.9,511.8 302.4,525.9 306.2,510.5 308.8,525.6 311.9,502.9 316.1,523.7 318.8,502.4 321.6,530.2 325.3,504.7 328.6,523.7 332.0,507.4 335.0,518.8 338.1,504.8 340.9,518.2 344.1,505.2 347.7,518.0 350.7,506.9 354.0,511.0 357.8,504.6 360.9,518.0 363.7,499.1 367.2,514.3 370.4,493.3 372.9,519.9 376.0,495.7 379.6,514.7 383.3,489.6 385.6,509.1 388.9,498.4 393.0,511.4 395.2,497.8 399.4,516.7 401.7,491.9 405.4,515.0 409.0,490.4 411.4,508.8 414.8,494.6 418.6,499.2 420.9,491.6 424.1,498.6 427.9,485.0 431.3,496.5 434.0,476.0 436.8,495.6 440.6,483.1 443.2,488.6 446.3,472.4 449.9,494.6 453.7,475.9 456.8,486.4 459.5,470.9 462.4,488.8 465.6,474.6 469.3,486.0 472.5,461.8 475.7,482.5 478.4,461.5"/>
<polyline stroke="#000" stroke-width="2.4" points="202.0,479.9 203.6,475.0 205.2,477.9 206.8,474.1 208.4,477.9 210.0,471.8 211.6,474.7 213.2,472.1 214.8,473.2 216.4,470.2 218.0,471.7 219.6,468.8 221.2,471.7 222.8,467.8 224.4,470.4 226.0,465.7 227.6,467.5 229.2,464.4 230.8,466.7 232.4,463.3 234.0,465.2 235.6,461.2 237.2,464.1 238.8,460.9 240.4,462.8 242.0,458.1 243.6,460.7 245.2,457.8 246.8,459.4 248.4,454.8 250.0,459.1 251.6,453.9 253.2,457.5 254.8,452.0 256.4,454.8 258.0,452.1 259.6,453.9 261.2,449.6 262.8,451.8 264.4,448.8 266.0,450.3 267.6,446.8 269.2,448.4 270.8,445.5 272.4,447.2 274.0,442.8 275.6,445.8 277.2,442.4 278.8,443.6 280.4,440.4 282.0,441.9 283.6,439.3 285.2,440.8 286.8,438.0 288.4,439.2 290.0,435.9 291.6,438.1 293.2,433.9 294.8,436.8 296.4,432.7 298.0,434.9 299.6,431.5 301.2,433.6 302.8,430.4 304.4,432.3 306.0,429.4 307.6,430.5 309.2,428.5 310.8,430.8 312.4,427.2 314.0,429.0 315.6,425.2 317.2,427.8 318.8,424.3 320.4,426.3 322.0,423.7 323.6,424.2 325.2,422.3 326.8,423.1 328.4,421.3 330.0,421.9 331.6,419.4 333.2,420.8 334.8,417.5 336.4,420.3 338.0,417.0 339.6,419.1 341.2,416.3 342.8,418.3 344.4,414.2 346.0,416.7 347.6,413.5 349.2,415.7 350.8,412.0 352.4,414.2 354.0,410.5 355.6,412.9 357.2,410.2 358.8,411.6 360.4,409.3 362.0,410.1 363.6,407.7 365.2,410.1 366.8,406.5 368.4,409.3 370.0,406.3 371.6,407.4 373.2,405.5 374.8,407.7 376.4,404.3 378.0,406.3 379.6,403.9 381.2,405.0 382.8,403.5 384.4,404.0 386.0,401.7 387.6,403.9 389.2,401.8 390.8,402.7 392.4,401.1 394.0,401.6 395.6,399.5 397.2,401.3 398.8,398.9 400.4,400.0 402.0,398.0 403.6,400.2 405.2,397.6 406.8,398.5 408.4,397.5 410.0,397.9 411.6,395.7 413.2,397.8 414.8,395.3 416.4,396.7 418.0,395.3 419.6,396.7 421.2,393.9 422.8,395.6 424.4,394.3 426.0,395.6 427.6,393.4 429.2,394.8 430.8,392.9 432.4,394.1 434.0,391.4 435.6,393.5 437.2,391.4 438.8,392.9 440.4,391.0 442.0,391.8 443.6,390.2 445.2,392.0 446.8,390.0 448.4,391.5 450.0,388.8 451.6,391.1 453.2,388.8 454.8,389.8 456.4,388.5 458.0,390.0 459.6,387.2 461.2,389.4 462.8,387.3 464.4,388.4 466.0,386.4 467.6,388.6 469.2,386.7 470.8,387.4 472.4,385.4 474.0,387.6 475.6,385.5 477.2,386.5 478.8,384.9 480.4,386.3 482.0,384.9 483.6,386.3 485.2,384.1 486.8,385.8 488.4,384.0 490.0,385.7 491.6,383.1 493.2,384.7 494.8,382.5 496.4,384.7 498.0,382.3 499.6,383.6 501.2,382.8 502.8,384.0 504.4,382.2 506.0,383.4 507.6,382.0 509.2,383.5 510.8,381.2 512.4,383.0 514.0,381.3 515.6,382.3 517.2,381.0 518.8,382.3 520.4,380.2 522.0,381.2 523.6,380.3 525.2,381.4 526.8,380.1 528.4,380.7 530.0,379.4 531.6,380.8 533.2,379.0 534.8,380.6 536.4,378.9 538.0,380.3 539.6,378.9 541.2,379.7 542.8,377.9 544.4,379.3 546.0,378.2 547.6,379.1 549.2,377.7 550.8,378.6 552.4,377.9 554.0,378.7 555.6,377.5 557.2,378.7 558.8,376.6 560.4,378.3 562.0,376.4 563.6,377.8 565.2,376.7 566.8,377.5 568.4,376.0 570.0,377.3 571.6,375.9 573.2,376.6 574.8,374.9 576.4,376.3 578.0,375.0 579.6,376.6 581.2,374.8 582.8,375.5 584.4,374.1 586.0,375.7 587.6,374.0 589.2,375.0 590.8,374.0 592.4,374.8 594.0,374.0 595.6,375.3 597.2,374.0 598.8,374.7 600.4,372.9 602.0,375.1 603.6,373.2 605.2,374.7 606.8,372.9 608.4,374.3 610.0,372.5 611.6,373.9 613.2,372.4 614.8,373.6 616.4,372.2 618.0,374.0 619.6,372.4 621.2,373.7 622.8,371.9 624.4,373.3 626.0,371.8 627.6,372.5 629.2,370.6 630.8,372.4 632.4,370.7 634.0,371.3 635.6,369.6 637.2,370.9 638.8,369.9 640.4,370.8 642.0,369.1 643.6,370.3 645.2,368.6 646.8,369.6 648.4,368.2 650.0,369.0 651.6,367.3 653.2,368.8 654.8,366.9 656.4,368.5 658.0,366.9 659.6,368.1 661.2,365.9 662.8,367.3 664.4,365.8 666.0,366.6 667.6,365.2 669.2,366.2 670.8,365.0 672.4,365.8 674.0,365.0 675.6,365.8 677.2,364.2 678.8,365.4 680.4,363.6 682.0,365.3 683.6,363.8 685.2,364.6 686.8,363.0 688.4,364.2 690.0,362.6 691.6,363.7 693.2,361.9 694.8,363.2 696.4,361.8 698.0,363.0 699.6,361.8 701.2,362.4 702.8,361.3 704.4,361.7 706.0,360.9 707.6,361.3 709.2,360.2 710.8,361.1 712.4,359.4 714.0,360.9 715.6,359.0 717.2,360.5 718.8,358.6 720.4,359.9 722.0,357.9 723.6,359.3 725.2,357.7 726.8,359.2 728.4,356.7 730.0,357.9 731.6,356.4 733.2,358.3 734.8,356.5 736.4,357.1 738.0,355.2 739.6,356.4 741.2,354.6 742.8,356.3 744.4,353.9 746.0,355.7 747.6,353.0 749.2,354.8 750.8,352.7 752.4,353.7 754.0,352.0 755.6,353.5 757.2,350.8 758.8,353.5 760.4,351.2 762.0,351.7 763.6,350.5 765.2,351.2 766.8,349.0 768.4,351.0 770.0,348.6 771.6,350.3 773.2,348.6 774.8,349.5 776.4,346.5 778.0,349.4 779.6,346.4 781.2,347.8 782.8,345.1 784.4,347.3 786.0,344.6 787.6,346.2 789.2,344.2 790.8,345.6 792.4,343.3 794.0,344.2 795.6,342.0 797.2,343.6 798.8,341.2 800.4,343.5 802.0,340.2 803.6,342.2 805.2,340.0 806.8,342.1 808.4,339.0 810.0,340.3 811.6,337.2 813.2,339.2 814.8,336.4 816.4,338.9 818.0,336.4 819.6,339.3 821.2,335.4 822.8,337.9 824.4,334.5 826.0,337.3 827.6,333.0 829.2,335.6 830.8,333.1 832.4,334.4 834.0,331.4 835.6,333.3 837.2,330.4 838.8,332.2 840.4,329.4 842.0,331.9 843.6,328.1 845.2,331.4 846.8,327.0 848.4,329.8 850.0,326.6 851.6,329.8 853.2,325.8 854.8,328.6 856.4,323.5 858.0,328.0 859.6,323.5 861.2,325.8 862.8,322.3 864.4,325.6 866.0,321.5 867.6,323.9 869.2,320.6 870.8,322.3 872.4,320.0 874.0,321.5 875.6,318.1 877.2,322.3 878.8,318.2 880.4,319.2 882.0,315.9 883.6,319.0 885.2,315.4 886.8,317.3 888.4,315.2 890.0,317.8 891.6,313.2 893.2,317.2 894.8,311.3 896.4,315.0 898.0,311.1 899.6,314.3 901.2,310.4 902.8,313.2 904.4,308.3 906.0,312.9 907.6,309.4 909.2,312.1 910.8,306.4 912.4,311.7 914.0,306.5 915.6,308.7 917.2,304.9 918.8,310.0 920.4,304.2 922.0,307.9 923.6,304.1 925.2,307.8 926.8,303.9 928.4,307.0 930.0,302.0 931.6,304.2 933.2,300.2 934.8,304.2 936.4,301.1 938.0,302.7 939.6,298.2 941.2,301.8 942.8,297.4 944.4,302.5 946.0,298.4 947.6,300.6 949.2,295.5 950.8,299.9 952.4,294.3 954.0,298.6 955.6,294.0 957.2,297.3 958.8,292.5 960.4,298.1 962.0,292.3 963.6,295.7"/>
</g>
<path d="M284,85.2 H343" stroke="#000" stroke-width="2.4"/>
<text x="350" y="100.2" font-size="42" textLength="272" lengthAdjust="spacingAndGlyphs">0 g per 100ml</text>
<path d="M284,159.8 H343" stroke="#FF0000" stroke-width="1.8"/>
<text x="350" y="174.8" font-size="42" textLength="57" lengthAdjust="spacingAndGlyphs">1 g</text>
<path d="M284,234.4 H343" stroke="#0070C0" stroke-width="1.8"/>
<text x="350" y="249.4" font-size="42" textLength="57" lengthAdjust="spacingAndGlyphs">8 g</text>
<path d="M284,309.0 H343" stroke="#00B050" stroke-width="1.8"/>
<text x="350" y="324.0" font-size="42" textLength="83" lengthAdjust="spacingAndGlyphs">15 g</text>
<text x="157.5" y="36.0" font-size="43.5" text-anchor="end" textLength="50" lengthAdjust="spacingAndGlyphs">60</text>
<text x="157.5" y="153.9" font-size="43.5" text-anchor="end" textLength="50" lengthAdjust="spacingAndGlyphs">40</text>
<text x="157.5" y="271.8" font-size="43.5" text-anchor="end" textLength="50" lengthAdjust="spacingAndGlyphs">20</text>
<text x="157.5" y="389.8" font-size="43.5" text-anchor="end" textLength="26" lengthAdjust="spacingAndGlyphs">0</text>
<text x="157.5" y="507.7" font-size="43.5" text-anchor="end" textLength="64" lengthAdjust="spacingAndGlyphs">-20</text>
<text x="157.5" y="625.6" font-size="43.5" text-anchor="end" textLength="64" lengthAdjust="spacingAndGlyphs">-40</text>
<text x="157.5" y="743.5" font-size="43.5" text-anchor="end" textLength="64" lengthAdjust="spacingAndGlyphs">-60</text>
<text x="201.8" y="808" font-size="43.5" text-anchor="middle" textLength="79" lengthAdjust="spacingAndGlyphs">-1.0</text>
<text x="392.9" y="808" font-size="43.5" text-anchor="middle" textLength="77" lengthAdjust="spacingAndGlyphs">-0.5</text>
<text x="584.0" y="808" font-size="43.5" text-anchor="middle" textLength="62" lengthAdjust="spacingAndGlyphs">0.0</text>
<text x="775.1" y="808" font-size="43.5" text-anchor="middle" textLength="62" lengthAdjust="spacingAndGlyphs">0.5</text>
<text x="966.2" y="808" font-size="43.5" text-anchor="middle" textLength="62" lengthAdjust="spacingAndGlyphs">1.0</text>
<text x="517" y="866" font-size="56" text-anchor="middle" textLength="312" lengthAdjust="spacingAndGlyphs">Potential (V)</text>
<text transform="translate(47,408) rotate(-90)" font-size="57" text-anchor="middle" textLength="652" lengthAdjust="spacingAndGlyphs">Current Density (mA/cm²)</text>
</svg></body></html>
